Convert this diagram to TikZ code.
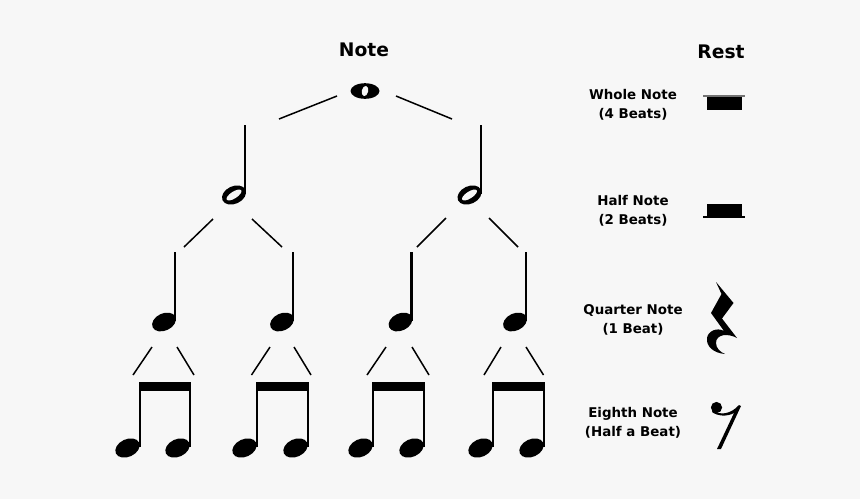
\documentclass[tikz,border=0pt]{standalone}
\usepackage{fontspec}
\setmainfont{DejaVu Sans}
\definecolor{bgc}{RGB}{247,247,247}
\begin{document}
\begin{tikzpicture}[x=1pt,y=-1pt,
  stem/.style={line width=2.1pt},
  link/.style={line width=1.5pt},
  lbl/.style={font=\fontsize{13.4}{16}\selectfont\bfseries, anchor=base, inner sep=0pt},
  ttl/.style={font=\fontsize{18.7}{22}\selectfont\bfseries, anchor=base, inner sep=0pt},
  pics/qnote/.style={code={
    \fill[rotate=25] (0,0) ellipse[x radius=12.5pt, y radius=8.6pt];
    \draw[stem] (11,-1) -- (11,-70);
  }},
  pics/hnote/.style={code={
    \fill[rotate=25] (0,0) ellipse[x radius=12.6pt, y radius=8.8pt];
    \fill[bgc, rotate=33] (0,0) ellipse[x radius=8.6pt, y radius=3.4pt];
    \draw[stem] (11.2,-1) -- (11.2,-70);
  }},
  pics/wnote/.style={code={
    \fill (0,0) ellipse[x radius=14.5pt, y radius=7.8pt];
    \fill[bgc, rotate=-12] (0,0) ellipse[x radius=3.2pt, y radius=5.2pt];
  }},
  pics/epair/.style args={#1}{code={
    \fill (-1,382) rectangle (#1+1,391);
    \draw[stem] (0,382) -- (0,447);
    \draw[stem] (#1,382) -- (#1,447);
    \fill[rotate around={25:(-12.5,448)}] (-12.5,448) ellipse[x radius=12.8pt, y radius=8.8pt];
    \fill[rotate around={25:(#1-12.5,448)}] (#1-12.5,448) ellipse[x radius=12.8pt, y radius=8.8pt];
  }}
]
\fill[bgc] (0,0) rectangle (860,499);
\useasboundingbox (0,0) rectangle (860,499);

% titles
\node[ttl] (tnote) at (364,56.5) {Note};
\node[ttl] (trest) at (721,58) {Rest};

% notes
\coordinate (w) at (365,91);
\pic at (w) {wnote};
\coordinate (h1) at (234,195);
\coordinate (h2) at (469.5,195);
\pic at (h1) {hnote};
\pic at (h2) {hnote};
\coordinate (q1) at (164,322);
\coordinate (q2) at (282,322);
\coordinate (q3) at (400.5,322);
\coordinate (q4) at (515,322);
\foreach \q in {q1,q2,q3,q4} \pic at (\q) {qnote};
\pic at (140,0) {epair=50};
\pic at (257,0) {epair=51};
\pic at (373,0) {epair=51};
\pic at (493,0) {epair=51};

% connector end points
\coordinate (w-l) at (337,96);   \coordinate (h1-t) at (279,119);
\coordinate (w-r) at (396,96);   \coordinate (h2-t) at (452,119);
\coordinate (h1-l) at (213,219); \coordinate (q1-t) at (184,247);
\coordinate (h1-r) at (252,219); \coordinate (q2-t) at (282,247);
\coordinate (h2-l) at (446,218); \coordinate (q3-t) at (417,247);
\coordinate (h2-r) at (489,218); \coordinate (q4-t) at (518,247);
\coordinate (q1-l) at (152,347); \coordinate (e1-l) at (133,375);
\coordinate (q1-r) at (177,347); \coordinate (e1-r) at (194,375);
\coordinate (q2-l) at (270,347); \coordinate (e2-l) at (251.5,375);
\coordinate (q2-r) at (294,347); \coordinate (e2-r) at (311,375);
\coordinate (q3-l) at (386,347); \coordinate (e3-l) at (367,375);
\coordinate (q3-r) at (412,347); \coordinate (e3-r) at (429,375);
\coordinate (q4-l) at (501,347); \coordinate (e4-l) at (484,375);
\coordinate (q4-r) at (526,347); \coordinate (e4-r) at (543.5,375);

\draw[link] (w-l) -- (h1-t);
\draw[link] (w-r) -- (h2-t);
\draw[link] (h1-l) -- (q1-t);
\draw[link] (h1-r) -- (q2-t);
\draw[link] (h2-l) -- (q3-t);
\draw[link] (h2-r) -- (q4-t);
\foreach \i in {1,2,3,4} {
  \draw[link] (q\i-l) -- (e\i-l);
  \draw[link] (q\i-r) -- (e\i-r);
}

% labels
\node[lbl] (lw1) at (633,99) {Whole Note};
\node[lbl] (lw2) at (633,118) {(4 Beats)};
\node[lbl] (lh1) at (633,205.5) {Half Note};
\node[lbl] (lh2) at (633,224.5) {(2 Beats)};
\node[lbl] (lq1) at (633,314) {Quarter Note};
\node[lbl] (lq2) at (633,333) {(1 Beat)};
\node[lbl] (le1) at (633,417.5) {Eighth Note};
\node[lbl] (le2) at (633,436.5) {(Half a Beat)};

% rests
\draw[line width=1.3pt, black!55] (703,96) -- (745,96);
\fill (707,96.5) rectangle (742,109.5);
\fill (707,204) rectangle (742,216.5);
\draw[line width=1.3pt] (703,217) -- (745,217);

% quarter rest
\fill (716,282) -- (733.5,303) -- (722,318.5) -- (737,338)
  .. controls (728,333) and (716,334) .. (716,343)
  .. controls (716,348) and (720,352) .. (725,354)
  .. controls (713,353) and (706,346) .. (707,338)
  .. controls (708,331) and (717,327) .. (724,331)
  -- (711,313) -- (721.5,294) -- cycle;

% eighth rest
\fill (716.5,407.5) circle[radius=5.6pt];
\fill (713,410) .. controls (720,416) and (731,414) .. (739,405)
  -- (741,406) -- (721,449) -- (717,449) -- (734,413)
  .. controls (727,417) and (717,416) .. (712,412) -- cycle;
\end{tikzpicture}
\end{document}
